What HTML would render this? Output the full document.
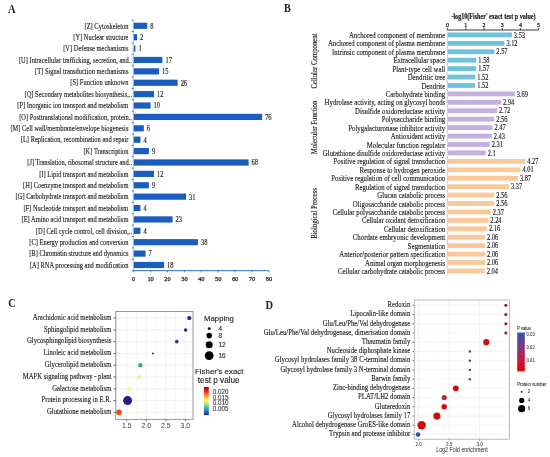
<!DOCTYPE html>
<html><head><meta charset="utf-8"><title>Figure</title>
<style>html,body{margin:0;padding:0;background:#fff;} body{width:550px;height:457px;overflow:hidden;} svg{display:block;filter:blur(0.3px);}</style>
</head><body>
<svg width="550" height="457" viewBox="0 0 550 457"><text transform="translate(8.00,12.60) scale(0.8898,1)" font-family="Liberation Serif" font-size="11.80" font-weight="bold" text-anchor="start" fill="#222222">A</text>
<rect x="133.70" y="22.70" width="13.52" height="6.20" fill="#1b5dbd" />
<text transform="translate(150.22,28.65) scale(0.8897,1)" font-family="Liberation Serif" font-size="7.25" font-weight="normal" text-anchor="start" fill="#222222" stroke="#222222" stroke-width="0.15">8</text>
<text transform="translate(128.40,28.50) scale(0.8897,1)" font-family="Liberation Serif" font-size="7.25" font-weight="normal" text-anchor="end" fill="#222222" stroke="#222222" stroke-width="0.13">[Z] Cytoskeleton</text>
<rect x="133.70" y="34.09" width="3.38" height="6.20" fill="#1b5dbd" />
<text transform="translate(140.08,40.04) scale(0.8897,1)" font-family="Liberation Serif" font-size="7.25" font-weight="normal" text-anchor="start" fill="#222222" stroke="#222222" stroke-width="0.15">2</text>
<text transform="translate(128.40,39.89) scale(0.8897,1)" font-family="Liberation Serif" font-size="7.25" font-weight="normal" text-anchor="end" fill="#222222" stroke="#222222" stroke-width="0.13">[Y] Nuclear structure</text>
<rect x="133.70" y="45.48" width="1.69" height="6.20" fill="#1b5dbd" />
<text transform="translate(138.39,51.43) scale(0.8897,1)" font-family="Liberation Serif" font-size="7.25" font-weight="normal" text-anchor="start" fill="#222222" stroke="#222222" stroke-width="0.15">1</text>
<text transform="translate(128.40,51.28) scale(0.8897,1)" font-family="Liberation Serif" font-size="7.25" font-weight="normal" text-anchor="end" fill="#222222" stroke="#222222" stroke-width="0.13">[V] Defense mechanisms</text>
<rect x="133.70" y="56.87" width="28.73" height="6.20" fill="#1b5dbd" />
<text transform="translate(165.43,62.82) scale(0.8897,1)" font-family="Liberation Serif" font-size="7.25" font-weight="normal" text-anchor="start" fill="#222222" stroke="#222222" stroke-width="0.15">17</text>
<text transform="translate(132.00,62.67) scale(0.8897,1)" font-family="Liberation Serif" font-size="7.25" font-weight="normal" text-anchor="end" fill="#222222" stroke="#222222" stroke-width="0.13">[U] Intracellular trafficking, secretion, and..</text>
<rect x="133.70" y="68.26" width="25.35" height="6.20" fill="#1b5dbd" />
<text transform="translate(162.05,74.20) scale(0.8897,1)" font-family="Liberation Serif" font-size="7.25" font-weight="normal" text-anchor="start" fill="#222222" stroke="#222222" stroke-width="0.15">15</text>
<text transform="translate(128.40,74.06) scale(0.8897,1)" font-family="Liberation Serif" font-size="7.25" font-weight="normal" text-anchor="end" fill="#222222" stroke="#222222" stroke-width="0.13">[T] Signal transduction mechanisms</text>
<rect x="133.70" y="79.65" width="43.94" height="6.20" fill="#1b5dbd" />
<text transform="translate(180.64,85.59) scale(0.8897,1)" font-family="Liberation Serif" font-size="7.25" font-weight="normal" text-anchor="start" fill="#222222" stroke="#222222" stroke-width="0.15">26</text>
<text transform="translate(128.40,85.45) scale(0.8897,1)" font-family="Liberation Serif" font-size="7.25" font-weight="normal" text-anchor="end" fill="#222222" stroke="#222222" stroke-width="0.13">[S] Function unknown</text>
<rect x="133.70" y="91.03" width="20.28" height="6.20" fill="#1b5dbd" />
<text transform="translate(156.98,96.98) scale(0.8897,1)" font-family="Liberation Serif" font-size="7.25" font-weight="normal" text-anchor="start" fill="#222222" stroke="#222222" stroke-width="0.15">12</text>
<text transform="translate(132.00,96.83) scale(0.8897,1)" font-family="Liberation Serif" font-size="7.25" font-weight="normal" text-anchor="end" fill="#222222" stroke="#222222" stroke-width="0.13">[Q] Secondary metabolites biosynthesis,..</text>
<rect x="133.70" y="102.43" width="16.90" height="6.20" fill="#1b5dbd" />
<text transform="translate(153.60,108.38) scale(0.8897,1)" font-family="Liberation Serif" font-size="7.25" font-weight="normal" text-anchor="start" fill="#222222" stroke="#222222" stroke-width="0.15">10</text>
<text transform="translate(128.40,108.23) scale(0.8897,1)" font-family="Liberation Serif" font-size="7.25" font-weight="normal" text-anchor="end" fill="#222222" stroke="#222222" stroke-width="0.13">[P] Inorganic ion transport and metabolism</text>
<rect x="133.70" y="113.81" width="128.44" height="6.20" fill="#1b5dbd" />
<text transform="translate(265.14,119.76) scale(0.8897,1)" font-family="Liberation Serif" font-size="7.25" font-weight="normal" text-anchor="start" fill="#222222" stroke="#222222" stroke-width="0.15">76</text>
<text transform="translate(132.00,119.61) scale(0.8897,1)" font-family="Liberation Serif" font-size="7.25" font-weight="normal" text-anchor="end" fill="#222222" stroke="#222222" stroke-width="0.13">[O] Posttranslational modification, protein..</text>
<rect x="133.70" y="125.21" width="10.14" height="6.20" fill="#1b5dbd" />
<text transform="translate(146.84,131.16) scale(0.8897,1)" font-family="Liberation Serif" font-size="7.25" font-weight="normal" text-anchor="start" fill="#222222" stroke="#222222" stroke-width="0.15">6</text>
<text transform="translate(128.40,131.00) scale(0.8897,1)" font-family="Liberation Serif" font-size="7.25" font-weight="normal" text-anchor="end" fill="#222222" stroke="#222222" stroke-width="0.13">[M] Cell wall/membrane/envelope biogenesis</text>
<rect x="133.70" y="136.59" width="6.76" height="6.20" fill="#1b5dbd" />
<text transform="translate(143.46,142.54) scale(0.8897,1)" font-family="Liberation Serif" font-size="7.25" font-weight="normal" text-anchor="start" fill="#222222" stroke="#222222" stroke-width="0.15">4</text>
<text transform="translate(128.40,142.39) scale(0.8897,1)" font-family="Liberation Serif" font-size="7.25" font-weight="normal" text-anchor="end" fill="#222222" stroke="#222222" stroke-width="0.13">[L] Replication, recombination and repair</text>
<rect x="133.70" y="147.99" width="15.21" height="6.20" fill="#1b5dbd" />
<text transform="translate(151.91,153.94) scale(0.8897,1)" font-family="Liberation Serif" font-size="7.25" font-weight="normal" text-anchor="start" fill="#222222" stroke="#222222" stroke-width="0.15">9</text>
<text transform="translate(128.40,153.78) scale(0.8897,1)" font-family="Liberation Serif" font-size="7.25" font-weight="normal" text-anchor="end" fill="#222222" stroke="#222222" stroke-width="0.13">[K] Transcription</text>
<rect x="133.70" y="159.38" width="114.92" height="6.20" fill="#1b5dbd" />
<text transform="translate(251.62,165.32) scale(0.8897,1)" font-family="Liberation Serif" font-size="7.25" font-weight="normal" text-anchor="start" fill="#222222" stroke="#222222" stroke-width="0.15">68</text>
<text transform="translate(132.00,165.17) scale(0.8897,1)" font-family="Liberation Serif" font-size="7.25" font-weight="normal" text-anchor="end" fill="#222222" stroke="#222222" stroke-width="0.13">[J] Translation, ribosomal structure and..</text>
<rect x="133.70" y="170.77" width="20.28" height="6.20" fill="#1b5dbd" />
<text transform="translate(156.98,176.72) scale(0.8897,1)" font-family="Liberation Serif" font-size="7.25" font-weight="normal" text-anchor="start" fill="#222222" stroke="#222222" stroke-width="0.15">12</text>
<text transform="translate(128.40,176.56) scale(0.8897,1)" font-family="Liberation Serif" font-size="7.25" font-weight="normal" text-anchor="end" fill="#222222" stroke="#222222" stroke-width="0.13">[I] Lipid transport and metabolism</text>
<rect x="133.70" y="182.16" width="15.21" height="6.20" fill="#1b5dbd" />
<text transform="translate(151.91,188.10) scale(0.8897,1)" font-family="Liberation Serif" font-size="7.25" font-weight="normal" text-anchor="start" fill="#222222" stroke="#222222" stroke-width="0.15">9</text>
<text transform="translate(128.40,187.95) scale(0.8897,1)" font-family="Liberation Serif" font-size="7.25" font-weight="normal" text-anchor="end" fill="#222222" stroke="#222222" stroke-width="0.13">[H] Coenzyme transport and metabolism</text>
<rect x="133.70" y="193.55" width="52.39" height="6.20" fill="#1b5dbd" />
<text transform="translate(189.09,199.50) scale(0.8897,1)" font-family="Liberation Serif" font-size="7.25" font-weight="normal" text-anchor="start" fill="#222222" stroke="#222222" stroke-width="0.15">31</text>
<text transform="translate(128.40,199.34) scale(0.8897,1)" font-family="Liberation Serif" font-size="7.25" font-weight="normal" text-anchor="end" fill="#222222" stroke="#222222" stroke-width="0.13">[G] Carbohydrate transport and metabolism</text>
<rect x="133.70" y="204.94" width="6.76" height="6.20" fill="#1b5dbd" />
<text transform="translate(143.46,210.88) scale(0.8897,1)" font-family="Liberation Serif" font-size="7.25" font-weight="normal" text-anchor="start" fill="#222222" stroke="#222222" stroke-width="0.15">4</text>
<text transform="translate(128.40,210.73) scale(0.8897,1)" font-family="Liberation Serif" font-size="7.25" font-weight="normal" text-anchor="end" fill="#222222" stroke="#222222" stroke-width="0.13">[F] Nucleotide transport and metabolism</text>
<rect x="133.70" y="216.33" width="38.87" height="6.20" fill="#1b5dbd" />
<text transform="translate(175.57,222.28) scale(0.8897,1)" font-family="Liberation Serif" font-size="7.25" font-weight="normal" text-anchor="start" fill="#222222" stroke="#222222" stroke-width="0.15">23</text>
<text transform="translate(128.40,222.12) scale(0.8897,1)" font-family="Liberation Serif" font-size="7.25" font-weight="normal" text-anchor="end" fill="#222222" stroke="#222222" stroke-width="0.13">[E] Amino acid transport and metabolism</text>
<rect x="133.70" y="227.72" width="6.76" height="6.20" fill="#1b5dbd" />
<text transform="translate(143.46,233.66) scale(0.8897,1)" font-family="Liberation Serif" font-size="7.25" font-weight="normal" text-anchor="start" fill="#222222" stroke="#222222" stroke-width="0.15">4</text>
<text transform="translate(132.00,233.51) scale(0.8897,1)" font-family="Liberation Serif" font-size="7.25" font-weight="normal" text-anchor="end" fill="#222222" stroke="#222222" stroke-width="0.13">[D] Cell cycle control, cell division,..</text>
<rect x="133.70" y="239.11" width="64.22" height="6.20" fill="#1b5dbd" />
<text transform="translate(200.92,245.06) scale(0.8897,1)" font-family="Liberation Serif" font-size="7.25" font-weight="normal" text-anchor="start" fill="#222222" stroke="#222222" stroke-width="0.15">38</text>
<text transform="translate(128.40,244.91) scale(0.8897,1)" font-family="Liberation Serif" font-size="7.25" font-weight="normal" text-anchor="end" fill="#222222" stroke="#222222" stroke-width="0.13">[C] Energy production and conversion</text>
<rect x="133.70" y="250.50" width="11.83" height="6.20" fill="#1b5dbd" />
<text transform="translate(148.53,256.44) scale(0.8897,1)" font-family="Liberation Serif" font-size="7.25" font-weight="normal" text-anchor="start" fill="#222222" stroke="#222222" stroke-width="0.15">7</text>
<text transform="translate(128.40,256.30) scale(0.8897,1)" font-family="Liberation Serif" font-size="7.25" font-weight="normal" text-anchor="end" fill="#222222" stroke="#222222" stroke-width="0.13">[B] Chromatin structure and dynamics</text>
<rect x="133.70" y="261.88" width="30.42" height="6.20" fill="#1b5dbd" />
<text transform="translate(167.12,267.84) scale(0.8897,1)" font-family="Liberation Serif" font-size="7.25" font-weight="normal" text-anchor="start" fill="#222222" stroke="#222222" stroke-width="0.15">18</text>
<text transform="translate(128.40,267.69) scale(0.8897,1)" font-family="Liberation Serif" font-size="7.25" font-weight="normal" text-anchor="end" fill="#222222" stroke="#222222" stroke-width="0.13">[A] RNA processing and modification</text>
<line x1="133.30" y1="20.10" x2="133.30" y2="270.68" stroke="#6f9bd6" stroke-width="0.6" />
<line x1="131.70" y1="20.10" x2="133.70" y2="20.10" stroke="#1b5dbd" stroke-width="0.8" />
<line x1="131.70" y1="31.49" x2="133.70" y2="31.49" stroke="#1b5dbd" stroke-width="0.8" />
<line x1="131.70" y1="42.88" x2="133.70" y2="42.88" stroke="#1b5dbd" stroke-width="0.8" />
<line x1="131.70" y1="54.27" x2="133.70" y2="54.27" stroke="#1b5dbd" stroke-width="0.8" />
<line x1="131.70" y1="65.66" x2="133.70" y2="65.66" stroke="#1b5dbd" stroke-width="0.8" />
<line x1="131.70" y1="77.05" x2="133.70" y2="77.05" stroke="#1b5dbd" stroke-width="0.8" />
<line x1="131.70" y1="88.44" x2="133.70" y2="88.44" stroke="#1b5dbd" stroke-width="0.8" />
<line x1="131.70" y1="99.83" x2="133.70" y2="99.83" stroke="#1b5dbd" stroke-width="0.8" />
<line x1="131.70" y1="111.22" x2="133.70" y2="111.22" stroke="#1b5dbd" stroke-width="0.8" />
<line x1="131.70" y1="122.61" x2="133.70" y2="122.61" stroke="#1b5dbd" stroke-width="0.8" />
<line x1="131.70" y1="134.00" x2="133.70" y2="134.00" stroke="#1b5dbd" stroke-width="0.8" />
<line x1="131.70" y1="145.39" x2="133.70" y2="145.39" stroke="#1b5dbd" stroke-width="0.8" />
<line x1="131.70" y1="156.78" x2="133.70" y2="156.78" stroke="#1b5dbd" stroke-width="0.8" />
<line x1="131.70" y1="168.17" x2="133.70" y2="168.17" stroke="#1b5dbd" stroke-width="0.8" />
<line x1="131.70" y1="179.56" x2="133.70" y2="179.56" stroke="#1b5dbd" stroke-width="0.8" />
<line x1="131.70" y1="190.95" x2="133.70" y2="190.95" stroke="#1b5dbd" stroke-width="0.8" />
<line x1="131.70" y1="202.34" x2="133.70" y2="202.34" stroke="#1b5dbd" stroke-width="0.8" />
<line x1="131.70" y1="213.73" x2="133.70" y2="213.73" stroke="#1b5dbd" stroke-width="0.8" />
<line x1="131.70" y1="225.12" x2="133.70" y2="225.12" stroke="#1b5dbd" stroke-width="0.8" />
<line x1="131.70" y1="236.51" x2="133.70" y2="236.51" stroke="#1b5dbd" stroke-width="0.8" />
<line x1="131.70" y1="247.90" x2="133.70" y2="247.90" stroke="#1b5dbd" stroke-width="0.8" />
<line x1="131.70" y1="259.29" x2="133.70" y2="259.29" stroke="#1b5dbd" stroke-width="0.8" />
<line x1="131.70" y1="270.68" x2="133.70" y2="270.68" stroke="#1b5dbd" stroke-width="0.8" />
<line x1="133.70" y1="270.68" x2="268.90" y2="270.68" stroke="#1b5dbd" stroke-width="0.9" />
<line x1="133.70" y1="270.68" x2="133.70" y2="272.28" stroke="#1b5dbd" stroke-width="0.8" />
<text transform="translate(133.70,281.40)" font-family="Liberation Serif" font-size="6.45" font-weight="normal" text-anchor="middle" fill="#222222" stroke="#222222" stroke-width="0.25">0</text>
<line x1="150.60" y1="270.68" x2="150.60" y2="272.28" stroke="#1b5dbd" stroke-width="0.8" />
<text transform="translate(150.60,281.40)" font-family="Liberation Serif" font-size="6.45" font-weight="normal" text-anchor="middle" fill="#222222" stroke="#222222" stroke-width="0.25">10</text>
<line x1="167.50" y1="270.68" x2="167.50" y2="272.28" stroke="#1b5dbd" stroke-width="0.8" />
<text transform="translate(167.50,281.40)" font-family="Liberation Serif" font-size="6.45" font-weight="normal" text-anchor="middle" fill="#222222" stroke="#222222" stroke-width="0.25">20</text>
<line x1="184.40" y1="270.68" x2="184.40" y2="272.28" stroke="#1b5dbd" stroke-width="0.8" />
<text transform="translate(184.40,281.40)" font-family="Liberation Serif" font-size="6.45" font-weight="normal" text-anchor="middle" fill="#222222" stroke="#222222" stroke-width="0.25">30</text>
<line x1="201.30" y1="270.68" x2="201.30" y2="272.28" stroke="#1b5dbd" stroke-width="0.8" />
<text transform="translate(201.30,281.40)" font-family="Liberation Serif" font-size="6.45" font-weight="normal" text-anchor="middle" fill="#222222" stroke="#222222" stroke-width="0.25">40</text>
<line x1="218.20" y1="270.68" x2="218.20" y2="272.28" stroke="#1b5dbd" stroke-width="0.8" />
<text transform="translate(218.20,281.40)" font-family="Liberation Serif" font-size="6.45" font-weight="normal" text-anchor="middle" fill="#222222" stroke="#222222" stroke-width="0.25">50</text>
<line x1="235.10" y1="270.68" x2="235.10" y2="272.28" stroke="#1b5dbd" stroke-width="0.8" />
<text transform="translate(235.10,281.40)" font-family="Liberation Serif" font-size="6.45" font-weight="normal" text-anchor="middle" fill="#222222" stroke="#222222" stroke-width="0.25">60</text>
<line x1="252.00" y1="270.68" x2="252.00" y2="272.28" stroke="#1b5dbd" stroke-width="0.8" />
<text transform="translate(252.00,281.40)" font-family="Liberation Serif" font-size="6.45" font-weight="normal" text-anchor="middle" fill="#222222" stroke="#222222" stroke-width="0.25">70</text>
<line x1="268.90" y1="270.68" x2="268.90" y2="272.28" stroke="#1b5dbd" stroke-width="0.8" />
<text transform="translate(268.90,281.40)" font-family="Liberation Serif" font-size="6.45" font-weight="normal" text-anchor="middle" fill="#222222" stroke="#222222" stroke-width="0.25">80</text>
<text transform="translate(284.00,12.30) scale(0.8793,1)" font-family="Liberation Serif" font-size="11.60" font-weight="bold" text-anchor="start" fill="#222222">B</text>
<rect x="447.60" y="32.50" width="64.25" height="4.80" fill="#70c2dd" />
<text transform="translate(513.85,37.60) scale(0.8828,1)" font-family="Liberation Serif" font-size="7.25" font-weight="normal" text-anchor="start" fill="#222222" stroke="#222222" stroke-width="0.15">3.53</text>
<text transform="translate(445.20,38.00) scale(0.9379,1)" font-family="Liberation Serif" font-size="7.25" font-weight="normal" text-anchor="end" fill="#222222" stroke="#222222" stroke-width="0.13">Anchored component of membrane</text>
<rect x="447.60" y="40.93" width="56.78" height="4.80" fill="#70c2dd" />
<text transform="translate(506.38,46.03) scale(0.8828,1)" font-family="Liberation Serif" font-size="7.25" font-weight="normal" text-anchor="start" fill="#222222" stroke="#222222" stroke-width="0.15">3.12</text>
<text transform="translate(445.20,46.43) scale(0.9379,1)" font-family="Liberation Serif" font-size="7.25" font-weight="normal" text-anchor="end" fill="#222222" stroke="#222222" stroke-width="0.13">Anchored component of plasma membrane</text>
<rect x="447.60" y="49.36" width="46.77" height="4.80" fill="#70c2dd" />
<text transform="translate(496.37,54.46) scale(0.8828,1)" font-family="Liberation Serif" font-size="7.25" font-weight="normal" text-anchor="start" fill="#222222" stroke="#222222" stroke-width="0.15">2.57</text>
<text transform="translate(445.20,54.86) scale(0.9379,1)" font-family="Liberation Serif" font-size="7.25" font-weight="normal" text-anchor="end" fill="#222222" stroke="#222222" stroke-width="0.13">Intrinsic component of plasma membrane</text>
<rect x="447.60" y="57.79" width="28.76" height="4.80" fill="#70c2dd" />
<text transform="translate(478.36,62.89) scale(0.8828,1)" font-family="Liberation Serif" font-size="7.25" font-weight="normal" text-anchor="start" fill="#222222" stroke="#222222" stroke-width="0.15">1.58</text>
<text transform="translate(445.20,63.29) scale(0.9379,1)" font-family="Liberation Serif" font-size="7.25" font-weight="normal" text-anchor="end" fill="#222222" stroke="#222222" stroke-width="0.13">Extracellular space</text>
<rect x="447.60" y="66.22" width="28.57" height="4.80" fill="#70c2dd" />
<text transform="translate(478.17,71.32) scale(0.8828,1)" font-family="Liberation Serif" font-size="7.25" font-weight="normal" text-anchor="start" fill="#222222" stroke="#222222" stroke-width="0.15">1.57</text>
<text transform="translate(445.20,71.72) scale(0.9379,1)" font-family="Liberation Serif" font-size="7.25" font-weight="normal" text-anchor="end" fill="#222222" stroke="#222222" stroke-width="0.13">Plant-type cell wall</text>
<rect x="447.60" y="74.65" width="27.66" height="4.80" fill="#70c2dd" />
<text transform="translate(477.26,79.75) scale(0.8828,1)" font-family="Liberation Serif" font-size="7.25" font-weight="normal" text-anchor="start" fill="#222222" stroke="#222222" stroke-width="0.15">1.52</text>
<text transform="translate(445.20,80.15) scale(0.9379,1)" font-family="Liberation Serif" font-size="7.25" font-weight="normal" text-anchor="end" fill="#222222" stroke="#222222" stroke-width="0.13">Dendritic tree</text>
<rect x="447.60" y="83.08" width="27.66" height="4.80" fill="#70c2dd" />
<text transform="translate(477.26,88.18) scale(0.8828,1)" font-family="Liberation Serif" font-size="7.25" font-weight="normal" text-anchor="start" fill="#222222" stroke="#222222" stroke-width="0.15">1.52</text>
<text transform="translate(445.20,88.58) scale(0.9379,1)" font-family="Liberation Serif" font-size="7.25" font-weight="normal" text-anchor="end" fill="#222222" stroke="#222222" stroke-width="0.13">Dendrite</text>
<rect x="447.60" y="91.51" width="67.16" height="4.80" fill="#c4b0dc" />
<text transform="translate(516.76,96.61) scale(0.8828,1)" font-family="Liberation Serif" font-size="7.25" font-weight="normal" text-anchor="start" fill="#222222" stroke="#222222" stroke-width="0.15">3.69</text>
<text transform="translate(445.20,97.01) scale(0.9379,1)" font-family="Liberation Serif" font-size="7.25" font-weight="normal" text-anchor="end" fill="#222222" stroke="#222222" stroke-width="0.13">Carbohydrate binding</text>
<rect x="447.60" y="99.94" width="53.51" height="4.80" fill="#c4b0dc" />
<text transform="translate(503.11,105.04) scale(0.8828,1)" font-family="Liberation Serif" font-size="7.25" font-weight="normal" text-anchor="start" fill="#222222" stroke="#222222" stroke-width="0.15">2.94</text>
<text transform="translate(445.20,105.44) scale(0.9379,1)" font-family="Liberation Serif" font-size="7.25" font-weight="normal" text-anchor="end" fill="#222222" stroke="#222222" stroke-width="0.13">Hydrolase activity, acting on glycosyl bonds</text>
<rect x="447.60" y="108.37" width="49.50" height="4.80" fill="#c4b0dc" />
<text transform="translate(499.10,113.47) scale(0.8828,1)" font-family="Liberation Serif" font-size="7.25" font-weight="normal" text-anchor="start" fill="#222222" stroke="#222222" stroke-width="0.15">2.72</text>
<text transform="translate(445.20,113.87) scale(0.9379,1)" font-family="Liberation Serif" font-size="7.25" font-weight="normal" text-anchor="end" fill="#222222" stroke="#222222" stroke-width="0.13">Disulfide oxidoreductase activity</text>
<rect x="447.60" y="116.80" width="46.59" height="4.80" fill="#c4b0dc" />
<text transform="translate(496.19,121.90) scale(0.8828,1)" font-family="Liberation Serif" font-size="7.25" font-weight="normal" text-anchor="start" fill="#222222" stroke="#222222" stroke-width="0.15">2.56</text>
<text transform="translate(445.20,122.30) scale(0.9379,1)" font-family="Liberation Serif" font-size="7.25" font-weight="normal" text-anchor="end" fill="#222222" stroke="#222222" stroke-width="0.13">Polysaccharide binding</text>
<rect x="447.60" y="125.23" width="44.95" height="4.80" fill="#c4b0dc" />
<text transform="translate(494.55,130.33) scale(0.8828,1)" font-family="Liberation Serif" font-size="7.25" font-weight="normal" text-anchor="start" fill="#222222" stroke="#222222" stroke-width="0.15">2.47</text>
<text transform="translate(445.20,130.73) scale(0.9379,1)" font-family="Liberation Serif" font-size="7.25" font-weight="normal" text-anchor="end" fill="#222222" stroke="#222222" stroke-width="0.13">Polygalacturonase inhibitor activity</text>
<rect x="447.60" y="133.66" width="44.23" height="4.80" fill="#c4b0dc" />
<text transform="translate(493.83,138.76) scale(0.8828,1)" font-family="Liberation Serif" font-size="7.25" font-weight="normal" text-anchor="start" fill="#222222" stroke="#222222" stroke-width="0.15">2.43</text>
<text transform="translate(445.20,139.16) scale(0.9379,1)" font-family="Liberation Serif" font-size="7.25" font-weight="normal" text-anchor="end" fill="#222222" stroke="#222222" stroke-width="0.13">Antioxidant activity</text>
<rect x="447.60" y="142.09" width="42.04" height="4.80" fill="#c4b0dc" />
<text transform="translate(491.64,147.19) scale(0.8828,1)" font-family="Liberation Serif" font-size="7.25" font-weight="normal" text-anchor="start" fill="#222222" stroke="#222222" stroke-width="0.15">2.31</text>
<text transform="translate(445.20,147.59) scale(0.9379,1)" font-family="Liberation Serif" font-size="7.25" font-weight="normal" text-anchor="end" fill="#222222" stroke="#222222" stroke-width="0.13">Molecular function regulator</text>
<rect x="447.60" y="150.52" width="38.22" height="4.80" fill="#c4b0dc" />
<text transform="translate(487.82,155.62) scale(0.8828,1)" font-family="Liberation Serif" font-size="7.25" font-weight="normal" text-anchor="start" fill="#222222" stroke="#222222" stroke-width="0.15">2.1</text>
<text transform="translate(445.20,156.02) scale(0.9379,1)" font-family="Liberation Serif" font-size="7.25" font-weight="normal" text-anchor="end" fill="#222222" stroke="#222222" stroke-width="0.13">Glutathione disulfide oxidoreductase activity</text>
<rect x="447.60" y="158.95" width="77.71" height="4.80" fill="#fac99b" />
<text transform="translate(527.31,164.05) scale(0.8828,1)" font-family="Liberation Serif" font-size="7.25" font-weight="normal" text-anchor="start" fill="#222222" stroke="#222222" stroke-width="0.15">4.27</text>
<text transform="translate(445.20,164.45) scale(0.9379,1)" font-family="Liberation Serif" font-size="7.25" font-weight="normal" text-anchor="end" fill="#222222" stroke="#222222" stroke-width="0.13">Positive regulation of signal transduction</text>
<rect x="447.60" y="167.38" width="72.98" height="4.80" fill="#fac99b" />
<text transform="translate(522.58,172.48) scale(0.8828,1)" font-family="Liberation Serif" font-size="7.25" font-weight="normal" text-anchor="start" fill="#222222" stroke="#222222" stroke-width="0.15">4.01</text>
<text transform="translate(445.20,172.88) scale(0.9379,1)" font-family="Liberation Serif" font-size="7.25" font-weight="normal" text-anchor="end" fill="#222222" stroke="#222222" stroke-width="0.13">Response to hydrogen peroxide</text>
<rect x="447.60" y="175.81" width="70.43" height="4.80" fill="#fac99b" />
<text transform="translate(520.03,180.91) scale(0.8828,1)" font-family="Liberation Serif" font-size="7.25" font-weight="normal" text-anchor="start" fill="#222222" stroke="#222222" stroke-width="0.15">3.87</text>
<text transform="translate(445.20,181.31) scale(0.9379,1)" font-family="Liberation Serif" font-size="7.25" font-weight="normal" text-anchor="end" fill="#222222" stroke="#222222" stroke-width="0.13">Positive regulation of cell communication</text>
<rect x="447.60" y="184.24" width="61.33" height="4.80" fill="#fac99b" />
<text transform="translate(510.93,189.34) scale(0.8828,1)" font-family="Liberation Serif" font-size="7.25" font-weight="normal" text-anchor="start" fill="#222222" stroke="#222222" stroke-width="0.15">3.37</text>
<text transform="translate(445.20,189.74) scale(0.9379,1)" font-family="Liberation Serif" font-size="7.25" font-weight="normal" text-anchor="end" fill="#222222" stroke="#222222" stroke-width="0.13">Regulation of signal transduction</text>
<rect x="447.60" y="192.67" width="46.59" height="4.80" fill="#fac99b" />
<text transform="translate(496.19,197.77) scale(0.8828,1)" font-family="Liberation Serif" font-size="7.25" font-weight="normal" text-anchor="start" fill="#222222" stroke="#222222" stroke-width="0.15">2.56</text>
<text transform="translate(445.20,198.17) scale(0.9379,1)" font-family="Liberation Serif" font-size="7.25" font-weight="normal" text-anchor="end" fill="#222222" stroke="#222222" stroke-width="0.13">Glucan catabolic process</text>
<rect x="447.60" y="201.10" width="46.59" height="4.80" fill="#fac99b" />
<text transform="translate(496.19,206.20) scale(0.8828,1)" font-family="Liberation Serif" font-size="7.25" font-weight="normal" text-anchor="start" fill="#222222" stroke="#222222" stroke-width="0.15">2.56</text>
<text transform="translate(445.20,206.60) scale(0.9379,1)" font-family="Liberation Serif" font-size="7.25" font-weight="normal" text-anchor="end" fill="#222222" stroke="#222222" stroke-width="0.13">Oligosaccharide catabolic process</text>
<rect x="447.60" y="209.53" width="43.13" height="4.80" fill="#fac99b" />
<text transform="translate(492.73,214.63) scale(0.8828,1)" font-family="Liberation Serif" font-size="7.25" font-weight="normal" text-anchor="start" fill="#222222" stroke="#222222" stroke-width="0.15">2.37</text>
<text transform="translate(445.20,215.03) scale(0.9379,1)" font-family="Liberation Serif" font-size="7.25" font-weight="normal" text-anchor="end" fill="#222222" stroke="#222222" stroke-width="0.13">Cellular polysaccharide catabolic process</text>
<rect x="447.60" y="217.96" width="40.77" height="4.80" fill="#fac99b" />
<text transform="translate(490.37,223.06) scale(0.8828,1)" font-family="Liberation Serif" font-size="7.25" font-weight="normal" text-anchor="start" fill="#222222" stroke="#222222" stroke-width="0.15">2.24</text>
<text transform="translate(445.20,223.46) scale(0.9379,1)" font-family="Liberation Serif" font-size="7.25" font-weight="normal" text-anchor="end" fill="#222222" stroke="#222222" stroke-width="0.13">Cellular oxidant detoxification</text>
<rect x="447.60" y="226.39" width="39.31" height="4.80" fill="#fac99b" />
<text transform="translate(488.91,231.49) scale(0.8828,1)" font-family="Liberation Serif" font-size="7.25" font-weight="normal" text-anchor="start" fill="#222222" stroke="#222222" stroke-width="0.15">2.16</text>
<text transform="translate(445.20,231.89) scale(0.9379,1)" font-family="Liberation Serif" font-size="7.25" font-weight="normal" text-anchor="end" fill="#222222" stroke="#222222" stroke-width="0.13">Cellular detoxification</text>
<rect x="447.60" y="234.82" width="37.49" height="4.80" fill="#fac99b" />
<text transform="translate(487.09,239.92) scale(0.8828,1)" font-family="Liberation Serif" font-size="7.25" font-weight="normal" text-anchor="start" fill="#222222" stroke="#222222" stroke-width="0.15">2.06</text>
<text transform="translate(445.20,240.32) scale(0.9379,1)" font-family="Liberation Serif" font-size="7.25" font-weight="normal" text-anchor="end" fill="#222222" stroke="#222222" stroke-width="0.13">Chordate embryonic development</text>
<rect x="447.60" y="243.25" width="37.49" height="4.80" fill="#fac99b" />
<text transform="translate(487.09,248.35) scale(0.8828,1)" font-family="Liberation Serif" font-size="7.25" font-weight="normal" text-anchor="start" fill="#222222" stroke="#222222" stroke-width="0.15">2.06</text>
<text transform="translate(445.20,248.75) scale(0.9379,1)" font-family="Liberation Serif" font-size="7.25" font-weight="normal" text-anchor="end" fill="#222222" stroke="#222222" stroke-width="0.13">Segmentation</text>
<rect x="447.60" y="251.68" width="37.49" height="4.80" fill="#fac99b" />
<text transform="translate(487.09,256.78) scale(0.8828,1)" font-family="Liberation Serif" font-size="7.25" font-weight="normal" text-anchor="start" fill="#222222" stroke="#222222" stroke-width="0.15">2.06</text>
<text transform="translate(445.20,257.18) scale(0.9379,1)" font-family="Liberation Serif" font-size="7.25" font-weight="normal" text-anchor="end" fill="#222222" stroke="#222222" stroke-width="0.13">Anterior/posterior pattern specification</text>
<rect x="447.60" y="260.11" width="37.49" height="4.80" fill="#fac99b" />
<text transform="translate(487.09,265.21) scale(0.8828,1)" font-family="Liberation Serif" font-size="7.25" font-weight="normal" text-anchor="start" fill="#222222" stroke="#222222" stroke-width="0.15">2.06</text>
<text transform="translate(445.20,265.61) scale(0.9379,1)" font-family="Liberation Serif" font-size="7.25" font-weight="normal" text-anchor="end" fill="#222222" stroke="#222222" stroke-width="0.13">Animal organ morphogenesis</text>
<rect x="447.60" y="268.54" width="37.13" height="4.80" fill="#fac99b" />
<text transform="translate(486.73,273.64) scale(0.8828,1)" font-family="Liberation Serif" font-size="7.25" font-weight="normal" text-anchor="start" fill="#222222" stroke="#222222" stroke-width="0.15">2.04</text>
<text transform="translate(445.20,274.04) scale(0.9379,1)" font-family="Liberation Serif" font-size="7.25" font-weight="normal" text-anchor="end" fill="#222222" stroke="#222222" stroke-width="0.13">Cellular carbohydrate catabolic process</text>
<line x1="447.60" y1="30.00" x2="538.60" y2="30.00" stroke="#222" stroke-width="0.9" />
<line x1="447.60" y1="28.00" x2="447.60" y2="30.00" stroke="#222" stroke-width="0.8" />
<text transform="translate(447.60,27.30)" font-family="Liberation Serif" font-size="6.00" font-weight="normal" text-anchor="middle" fill="#222222" stroke="#222222" stroke-width="0.25">0</text>
<line x1="465.80" y1="28.00" x2="465.80" y2="30.00" stroke="#222" stroke-width="0.8" />
<text transform="translate(465.80,27.30)" font-family="Liberation Serif" font-size="6.00" font-weight="normal" text-anchor="middle" fill="#222222" stroke="#222222" stroke-width="0.25">1</text>
<line x1="484.00" y1="28.00" x2="484.00" y2="30.00" stroke="#222" stroke-width="0.8" />
<text transform="translate(484.00,27.30)" font-family="Liberation Serif" font-size="6.00" font-weight="normal" text-anchor="middle" fill="#222222" stroke="#222222" stroke-width="0.25">2</text>
<line x1="502.20" y1="28.00" x2="502.20" y2="30.00" stroke="#222" stroke-width="0.8" />
<text transform="translate(502.20,27.30)" font-family="Liberation Serif" font-size="6.00" font-weight="normal" text-anchor="middle" fill="#222222" stroke="#222222" stroke-width="0.25">3</text>
<line x1="520.40" y1="28.00" x2="520.40" y2="30.00" stroke="#222" stroke-width="0.8" />
<text transform="translate(520.40,27.30)" font-family="Liberation Serif" font-size="6.00" font-weight="normal" text-anchor="middle" fill="#222222" stroke="#222222" stroke-width="0.25">4</text>
<line x1="538.60" y1="28.00" x2="538.60" y2="30.00" stroke="#222" stroke-width="0.8" />
<text transform="translate(538.60,27.30)" font-family="Liberation Serif" font-size="6.00" font-weight="normal" text-anchor="middle" fill="#222222" stroke="#222222" stroke-width="0.25">5</text>
<line x1="447.60" y1="30.00" x2="447.60" y2="274.80" stroke="#bbb" stroke-width="0.6" />
<line x1="446.20" y1="30.68" x2="447.60" y2="30.68" stroke="#bbb" stroke-width="0.5" />
<line x1="446.20" y1="39.11" x2="447.60" y2="39.11" stroke="#bbb" stroke-width="0.5" />
<line x1="446.20" y1="47.55" x2="447.60" y2="47.55" stroke="#bbb" stroke-width="0.5" />
<line x1="446.20" y1="55.97" x2="447.60" y2="55.97" stroke="#bbb" stroke-width="0.5" />
<line x1="446.20" y1="64.41" x2="447.60" y2="64.41" stroke="#bbb" stroke-width="0.5" />
<line x1="446.20" y1="72.83" x2="447.60" y2="72.83" stroke="#bbb" stroke-width="0.5" />
<line x1="446.20" y1="81.27" x2="447.60" y2="81.27" stroke="#bbb" stroke-width="0.5" />
<line x1="446.20" y1="89.69" x2="447.60" y2="89.69" stroke="#bbb" stroke-width="0.5" />
<line x1="446.20" y1="98.12" x2="447.60" y2="98.12" stroke="#bbb" stroke-width="0.5" />
<line x1="446.20" y1="106.56" x2="447.60" y2="106.56" stroke="#bbb" stroke-width="0.5" />
<line x1="446.20" y1="114.98" x2="447.60" y2="114.98" stroke="#bbb" stroke-width="0.5" />
<line x1="446.20" y1="123.41" x2="447.60" y2="123.41" stroke="#bbb" stroke-width="0.5" />
<line x1="446.20" y1="131.84" x2="447.60" y2="131.84" stroke="#bbb" stroke-width="0.5" />
<line x1="446.20" y1="140.28" x2="447.60" y2="140.28" stroke="#bbb" stroke-width="0.5" />
<line x1="446.20" y1="148.70" x2="447.60" y2="148.70" stroke="#bbb" stroke-width="0.5" />
<line x1="446.20" y1="157.13" x2="447.60" y2="157.13" stroke="#bbb" stroke-width="0.5" />
<line x1="446.20" y1="165.56" x2="447.60" y2="165.56" stroke="#bbb" stroke-width="0.5" />
<line x1="446.20" y1="174.00" x2="447.60" y2="174.00" stroke="#bbb" stroke-width="0.5" />
<line x1="446.20" y1="182.43" x2="447.60" y2="182.43" stroke="#bbb" stroke-width="0.5" />
<line x1="446.20" y1="190.85" x2="447.60" y2="190.85" stroke="#bbb" stroke-width="0.5" />
<line x1="446.20" y1="199.28" x2="447.60" y2="199.28" stroke="#bbb" stroke-width="0.5" />
<line x1="446.20" y1="207.72" x2="447.60" y2="207.72" stroke="#bbb" stroke-width="0.5" />
<line x1="446.20" y1="216.14" x2="447.60" y2="216.14" stroke="#bbb" stroke-width="0.5" />
<line x1="446.20" y1="224.57" x2="447.60" y2="224.57" stroke="#bbb" stroke-width="0.5" />
<line x1="446.20" y1="233.00" x2="447.60" y2="233.00" stroke="#bbb" stroke-width="0.5" />
<line x1="446.20" y1="241.44" x2="447.60" y2="241.44" stroke="#bbb" stroke-width="0.5" />
<line x1="446.20" y1="249.87" x2="447.60" y2="249.87" stroke="#bbb" stroke-width="0.5" />
<line x1="446.20" y1="258.29" x2="447.60" y2="258.29" stroke="#bbb" stroke-width="0.5" />
<line x1="446.20" y1="266.72" x2="447.60" y2="266.72" stroke="#bbb" stroke-width="0.5" />
<line x1="446.20" y1="275.15" x2="447.60" y2="275.15" stroke="#bbb" stroke-width="0.5" />
<text transform="translate(493.50,18.70) scale(0.8414,1)" font-family="Liberation Serif" font-size="7.25" font-weight="bold" text-anchor="middle" fill="#222222" stroke="#222222" stroke-width="0.20">-log10(Fisher&#x27; exact test p value)</text>
<text transform="translate(317.1,61.0) rotate(-90) scale(0.9379,1)" font-family="Liberation Serif" font-size="7.25" text-anchor="middle" fill="#222222" stroke="#222222" stroke-width="0.13">Cellular Component</text>
<text transform="translate(317.1,127.5) rotate(-90) scale(0.9379,1)" font-family="Liberation Serif" font-size="7.25" text-anchor="middle" fill="#222222" stroke="#222222" stroke-width="0.13">Molecular Function</text>
<text transform="translate(317.1,213.5) rotate(-90) scale(0.9379,1)" font-family="Liberation Serif" font-size="7.25" text-anchor="middle" fill="#222222" stroke="#222222" stroke-width="0.13">Biological Process</text>
<text transform="translate(8.30,306.80) scale(0.8644,1)" font-family="Liberation Serif" font-size="11.80" font-weight="bold" text-anchor="start" fill="#222222">C</text>
<rect x="115.80" y="311.50" width="77.20" height="107.80" fill="#ffffff" />
<line x1="116.92" y1="311.50" x2="116.92" y2="419.30" stroke="#ebebeb" stroke-width="0.5" />
<line x1="126.70" y1="311.50" x2="126.70" y2="419.30" stroke="#ebebeb" stroke-width="0.7" />
<line x1="136.48" y1="311.50" x2="136.48" y2="419.30" stroke="#ebebeb" stroke-width="0.5" />
<line x1="146.27" y1="311.50" x2="146.27" y2="419.30" stroke="#ebebeb" stroke-width="0.7" />
<line x1="156.05" y1="311.50" x2="156.05" y2="419.30" stroke="#ebebeb" stroke-width="0.5" />
<line x1="165.83" y1="311.50" x2="165.83" y2="419.30" stroke="#ebebeb" stroke-width="0.7" />
<line x1="175.61" y1="311.50" x2="175.61" y2="419.30" stroke="#ebebeb" stroke-width="0.5" />
<line x1="185.40" y1="311.50" x2="185.40" y2="419.30" stroke="#ebebeb" stroke-width="0.7" />
<line x1="115.80" y1="318.10" x2="193.00" y2="318.10" stroke="#ebebeb" stroke-width="0.7" />
<line x1="115.80" y1="329.88" x2="193.00" y2="329.88" stroke="#ebebeb" stroke-width="0.7" />
<line x1="115.80" y1="341.66" x2="193.00" y2="341.66" stroke="#ebebeb" stroke-width="0.7" />
<line x1="115.80" y1="353.44" x2="193.00" y2="353.44" stroke="#ebebeb" stroke-width="0.7" />
<line x1="115.80" y1="365.23" x2="193.00" y2="365.23" stroke="#ebebeb" stroke-width="0.7" />
<line x1="115.80" y1="377.01" x2="193.00" y2="377.01" stroke="#ebebeb" stroke-width="0.7" />
<line x1="115.80" y1="388.79" x2="193.00" y2="388.79" stroke="#ebebeb" stroke-width="0.7" />
<line x1="115.80" y1="400.57" x2="193.00" y2="400.57" stroke="#ebebeb" stroke-width="0.7" />
<line x1="115.80" y1="412.35" x2="193.00" y2="412.35" stroke="#ebebeb" stroke-width="0.7" />
<circle cx="189.31" cy="318.10" r="2.10" fill="#2a1f8a" />
<line x1="113.60" y1="318.10" x2="115.80" y2="318.10" stroke="#333" stroke-width="0.8" />
<text transform="translate(111.40,319.90) scale(0.9214,1)" font-family="Liberation Serif" font-size="7.25" font-weight="normal" text-anchor="end" fill="#222222" stroke="#222222" stroke-width="0.13">Arachidonic acid metabolism</text>
<circle cx="185.59" cy="329.88" r="1.75" fill="#1f2a90" />
<line x1="113.60" y1="329.88" x2="115.80" y2="329.88" stroke="#333" stroke-width="0.8" />
<text transform="translate(111.40,331.68) scale(0.9214,1)" font-family="Liberation Serif" font-size="7.25" font-weight="normal" text-anchor="end" fill="#222222" stroke="#222222" stroke-width="0.13">Sphingolipid metabolism</text>
<circle cx="176.79" cy="341.66" r="1.80" fill="#1e3a9a" />
<line x1="113.60" y1="341.66" x2="115.80" y2="341.66" stroke="#333" stroke-width="0.8" />
<text transform="translate(111.40,343.46) scale(0.9214,1)" font-family="Liberation Serif" font-size="7.25" font-weight="normal" text-anchor="end" fill="#222222" stroke="#222222" stroke-width="0.13">Glycosphingolipid biosynthesis</text>
<circle cx="152.92" cy="353.44" r="1.00" fill="#8b1a1a" />
<line x1="113.60" y1="353.44" x2="115.80" y2="353.44" stroke="#333" stroke-width="0.8" />
<text transform="translate(111.40,355.24) scale(0.9214,1)" font-family="Liberation Serif" font-size="7.25" font-weight="normal" text-anchor="end" fill="#222222" stroke="#222222" stroke-width="0.13">Linoleic acid metabolism</text>
<circle cx="140.32" cy="365.23" r="2.30" fill="#3aa79a" />
<line x1="113.60" y1="365.23" x2="115.80" y2="365.23" stroke="#333" stroke-width="0.8" />
<text transform="translate(111.40,367.03) scale(0.9214,1)" font-family="Liberation Serif" font-size="7.25" font-weight="normal" text-anchor="end" fill="#222222" stroke="#222222" stroke-width="0.13">Glycerolipid metabolism</text>
<circle cx="139.10" cy="377.01" r="2.10" fill="#f6f08a" />
<line x1="113.60" y1="377.01" x2="115.80" y2="377.01" stroke="#333" stroke-width="0.8" />
<text transform="translate(111.40,378.81) scale(0.9214,1)" font-family="Liberation Serif" font-size="7.25" font-weight="normal" text-anchor="end" fill="#222222" stroke="#222222" stroke-width="0.13">MAPK signaling pathway - plant</text>
<circle cx="130.10" cy="388.79" r="2.30" fill="#fcf5a0" />
<line x1="113.60" y1="388.79" x2="115.80" y2="388.79" stroke="#333" stroke-width="0.8" />
<text transform="translate(111.40,390.59) scale(0.9214,1)" font-family="Liberation Serif" font-size="7.25" font-weight="normal" text-anchor="end" fill="#222222" stroke="#222222" stroke-width="0.13">Galactose metabolism</text>
<circle cx="127.60" cy="400.57" r="4.50" fill="#2a1a8c" />
<line x1="113.60" y1="400.57" x2="115.80" y2="400.57" stroke="#333" stroke-width="0.8" />
<text transform="translate(111.40,402.37) scale(0.9214,1)" font-family="Liberation Serif" font-size="7.25" font-weight="normal" text-anchor="end" fill="#222222" stroke="#222222" stroke-width="0.13">Protein processing in E.R.</text>
<circle cx="118.99" cy="412.35" r="2.80" fill="#f04a10" />
<line x1="113.60" y1="412.35" x2="115.80" y2="412.35" stroke="#333" stroke-width="0.8" />
<text transform="translate(111.40,414.15) scale(0.9214,1)" font-family="Liberation Serif" font-size="7.25" font-weight="normal" text-anchor="end" fill="#222222" stroke="#222222" stroke-width="0.13">Glutathione metabolism</text>
<rect x="115.80" y="311.50" width="77.20" height="107.80" fill="none" stroke="#6a6a6a" stroke-width="0.7"/>
<line x1="126.70" y1="419.30" x2="126.70" y2="421.30" stroke="#444" stroke-width="0.7" />
<text transform="translate(126.70,427.70)" font-family="Liberation Sans" font-size="6.90" font-weight="normal" text-anchor="middle" fill="#555" stroke="#555" stroke-width="0.10">1.5</text>
<line x1="146.27" y1="419.30" x2="146.27" y2="421.30" stroke="#444" stroke-width="0.7" />
<text transform="translate(146.27,427.70)" font-family="Liberation Sans" font-size="6.90" font-weight="normal" text-anchor="middle" fill="#555" stroke="#555" stroke-width="0.10">2.0</text>
<line x1="165.83" y1="419.30" x2="165.83" y2="421.30" stroke="#444" stroke-width="0.7" />
<text transform="translate(165.83,427.70)" font-family="Liberation Sans" font-size="6.90" font-weight="normal" text-anchor="middle" fill="#555" stroke="#555" stroke-width="0.10">2.5</text>
<line x1="185.40" y1="419.30" x2="185.40" y2="421.30" stroke="#444" stroke-width="0.7" />
<text transform="translate(185.40,427.70)" font-family="Liberation Sans" font-size="6.90" font-weight="normal" text-anchor="middle" fill="#555" stroke="#555" stroke-width="0.10">3.0</text>
<text transform="translate(204.00,320.90)" font-family="Liberation Sans" font-size="7.80" font-weight="normal" text-anchor="start" fill="#222222" stroke="#222222" stroke-width="0.12">Mapping</text>
<circle cx="209.20" cy="328.60" r="1.40" fill="#000" />
<text transform="translate(218.50,330.90)" font-family="Liberation Sans" font-size="6.40" font-weight="normal" text-anchor="start" fill="#222222" stroke="#222222" stroke-width="0.12">4</text>
<circle cx="209.20" cy="335.60" r="2.80" fill="#000" />
<text transform="translate(218.50,337.90)" font-family="Liberation Sans" font-size="6.40" font-weight="normal" text-anchor="start" fill="#222222" stroke="#222222" stroke-width="0.12">8</text>
<circle cx="209.20" cy="344.70" r="3.50" fill="#000" />
<text transform="translate(218.50,347.00)" font-family="Liberation Sans" font-size="6.40" font-weight="normal" text-anchor="start" fill="#222222" stroke="#222222" stroke-width="0.12">12</text>
<circle cx="209.20" cy="355.60" r="4.40" fill="#000" />
<text transform="translate(218.50,357.90)" font-family="Liberation Sans" font-size="6.40" font-weight="normal" text-anchor="start" fill="#222222" stroke="#222222" stroke-width="0.12">16</text>
<text transform="translate(195.00,374.00)" font-family="Liberation Sans" font-size="7.90" font-weight="normal" text-anchor="start" fill="#222222" stroke="#222222" stroke-width="0.12">Fisher&#x27;s exact</text>
<text transform="translate(197.80,383.30)" font-family="Liberation Sans" font-size="8.20" font-weight="normal" text-anchor="start" fill="#222222" stroke="#222222" stroke-width="0.12">test p value</text>
<defs><linearGradient id="rb" x1="0" y1="0" x2="0" y2="1"><stop offset="0" stop-color="#9a0020"/><stop offset="0.15" stop-color="#e8201a"/><stop offset="0.3" stop-color="#fb8a2a"/><stop offset="0.47" stop-color="#fff570"/><stop offset="0.6" stop-color="#b8e27a"/><stop offset="0.72" stop-color="#4cbfa2"/><stop offset="0.85" stop-color="#2a78bf"/><stop offset="1" stop-color="#23228e"/></linearGradient><linearGradient id="br" x1="0" y1="0" x2="0" y2="1"><stop offset="0" stop-color="#2a55b0"/><stop offset="0.35" stop-color="#7c3c86"/><stop offset="0.7" stop-color="#c81838"/><stop offset="1" stop-color="#e00000"/></linearGradient></defs>
<rect x="203.90" y="386.90" width="4.90" height="28.20" fill="url(#rb)" />
<text transform="translate(212.80,393.85) scale(0.9766,1)" font-family="Liberation Sans" font-size="6.40" font-weight="normal" text-anchor="start" fill="#333" stroke="#333" stroke-width="0.10">0.020</text>
<text transform="translate(212.80,399.55) scale(0.9766,1)" font-family="Liberation Sans" font-size="6.40" font-weight="normal" text-anchor="start" fill="#333" stroke="#333" stroke-width="0.10">0.015</text>
<text transform="translate(212.80,405.15) scale(0.9766,1)" font-family="Liberation Sans" font-size="6.40" font-weight="normal" text-anchor="start" fill="#333" stroke="#333" stroke-width="0.10">0.010</text>
<text transform="translate(212.80,410.85) scale(0.9766,1)" font-family="Liberation Sans" font-size="6.40" font-weight="normal" text-anchor="start" fill="#333" stroke="#333" stroke-width="0.10">0.005</text>
<text transform="translate(265.50,308.50) scale(0.9052,1)" font-family="Liberation Serif" font-size="11.60" font-weight="bold" text-anchor="start" fill="#222222">D</text>
<line x1="418.60" y1="300.00" x2="418.60" y2="439.20" stroke="#e8e8e8" stroke-width="0.6" />
<line x1="433.85" y1="300.00" x2="433.85" y2="439.20" stroke="#fafafa" stroke-width="0.6" />
<line x1="449.10" y1="300.00" x2="449.10" y2="439.20" stroke="#e8e8e8" stroke-width="0.6" />
<line x1="464.35" y1="300.00" x2="464.35" y2="439.20" stroke="#fafafa" stroke-width="0.6" />
<line x1="479.60" y1="300.00" x2="479.60" y2="439.20" stroke="#e8e8e8" stroke-width="0.6" />
<line x1="494.85" y1="300.00" x2="494.85" y2="439.20" stroke="#fafafa" stroke-width="0.6" />
<line x1="414.30" y1="305.30" x2="509.40" y2="305.30" stroke="#efefef" stroke-width="0.6" />
<line x1="414.30" y1="314.53" x2="509.40" y2="314.53" stroke="#efefef" stroke-width="0.6" />
<line x1="414.30" y1="323.76" x2="509.40" y2="323.76" stroke="#efefef" stroke-width="0.6" />
<line x1="414.30" y1="332.99" x2="509.40" y2="332.99" stroke="#efefef" stroke-width="0.6" />
<line x1="414.30" y1="342.21" x2="509.40" y2="342.21" stroke="#efefef" stroke-width="0.6" />
<line x1="414.30" y1="351.44" x2="509.40" y2="351.44" stroke="#efefef" stroke-width="0.6" />
<line x1="414.30" y1="360.67" x2="509.40" y2="360.67" stroke="#efefef" stroke-width="0.6" />
<line x1="414.30" y1="369.90" x2="509.40" y2="369.90" stroke="#efefef" stroke-width="0.6" />
<line x1="414.30" y1="379.13" x2="509.40" y2="379.13" stroke="#efefef" stroke-width="0.6" />
<line x1="414.30" y1="388.36" x2="509.40" y2="388.36" stroke="#efefef" stroke-width="0.6" />
<line x1="414.30" y1="397.59" x2="509.40" y2="397.59" stroke="#efefef" stroke-width="0.6" />
<line x1="414.30" y1="406.81" x2="509.40" y2="406.81" stroke="#efefef" stroke-width="0.6" />
<line x1="414.30" y1="416.04" x2="509.40" y2="416.04" stroke="#efefef" stroke-width="0.6" />
<line x1="414.30" y1="425.27" x2="509.40" y2="425.27" stroke="#efefef" stroke-width="0.6" />
<line x1="414.30" y1="434.50" x2="509.40" y2="434.50" stroke="#efefef" stroke-width="0.6" />
<circle cx="505.83" cy="305.30" r="1.50" fill="#a8101e" />
<line x1="412.50" y1="305.30" x2="414.30" y2="305.30" stroke="#333" stroke-width="0.7" />
<text transform="translate(410.30,307.10) scale(0.9310,1)" font-family="Liberation Serif" font-size="7.25" font-weight="normal" text-anchor="end" fill="#222222" stroke="#222222" stroke-width="0.13">Redoxin</text>
<circle cx="505.83" cy="314.53" r="1.50" fill="#a8101e" />
<line x1="412.50" y1="314.53" x2="414.30" y2="314.53" stroke="#333" stroke-width="0.7" />
<text transform="translate(410.30,316.33) scale(0.9310,1)" font-family="Liberation Serif" font-size="7.25" font-weight="normal" text-anchor="end" fill="#222222" stroke="#222222" stroke-width="0.13">Lipocalin-like domain</text>
<circle cx="505.83" cy="323.76" r="1.50" fill="#a8101e" />
<line x1="412.50" y1="323.76" x2="414.30" y2="323.76" stroke="#333" stroke-width="0.7" />
<text transform="translate(410.30,325.56) scale(0.9310,1)" font-family="Liberation Serif" font-size="7.25" font-weight="normal" text-anchor="end" fill="#222222" stroke="#222222" stroke-width="0.13">Glu/Leu/Phe/Val dehydrogenase</text>
<circle cx="505.83" cy="332.99" r="1.50" fill="#a8101e" />
<line x1="412.50" y1="332.99" x2="414.30" y2="332.99" stroke="#333" stroke-width="0.7" />
<text transform="translate(410.30,334.79) scale(0.9310,1)" font-family="Liberation Serif" font-size="7.25" font-weight="normal" text-anchor="end" fill="#222222" stroke="#222222" stroke-width="0.13">Glu/Leu/Phe/Val dehydrogenase, dimerisation domain</text>
<circle cx="486.31" cy="342.21" r="3.10" fill="#d40c0c" />
<line x1="412.50" y1="342.21" x2="414.30" y2="342.21" stroke="#333" stroke-width="0.7" />
<text transform="translate(410.30,344.01) scale(0.9310,1)" font-family="Liberation Serif" font-size="7.25" font-weight="normal" text-anchor="end" fill="#222222" stroke="#222222" stroke-width="0.13">Thaumatin family</text>
<circle cx="469.84" cy="351.44" r="1.20" fill="#5a3a88" />
<line x1="412.50" y1="351.44" x2="414.30" y2="351.44" stroke="#333" stroke-width="0.7" />
<text transform="translate(410.30,353.24) scale(0.9310,1)" font-family="Liberation Serif" font-size="7.25" font-weight="normal" text-anchor="end" fill="#222222" stroke="#222222" stroke-width="0.13">Nucleoside diphosphate kinase</text>
<circle cx="469.84" cy="360.67" r="1.20" fill="#5a3a88" />
<line x1="412.50" y1="360.67" x2="414.30" y2="360.67" stroke="#333" stroke-width="0.7" />
<text transform="translate(410.30,362.47) scale(0.9310,1)" font-family="Liberation Serif" font-size="7.25" font-weight="normal" text-anchor="end" fill="#222222" stroke="#222222" stroke-width="0.13">Glycosyl hydrolases family 38 C-terminal domain</text>
<circle cx="469.84" cy="369.90" r="1.20" fill="#5a3a88" />
<line x1="412.50" y1="369.90" x2="414.30" y2="369.90" stroke="#333" stroke-width="0.7" />
<text transform="translate(410.30,371.70) scale(0.9310,1)" font-family="Liberation Serif" font-size="7.25" font-weight="normal" text-anchor="end" fill="#222222" stroke="#222222" stroke-width="0.13">Glycosyl hydrolase family 3 N-terminal domain</text>
<circle cx="469.84" cy="379.13" r="1.20" fill="#5a3a88" />
<line x1="412.50" y1="379.13" x2="414.30" y2="379.13" stroke="#333" stroke-width="0.7" />
<text transform="translate(410.30,380.93) scale(0.9310,1)" font-family="Liberation Serif" font-size="7.25" font-weight="normal" text-anchor="end" fill="#222222" stroke="#222222" stroke-width="0.13">Barwin family</text>
<circle cx="455.81" cy="388.36" r="2.90" fill="#d00d0d" />
<line x1="412.50" y1="388.36" x2="414.30" y2="388.36" stroke="#333" stroke-width="0.7" />
<text transform="translate(410.30,390.16) scale(0.9310,1)" font-family="Liberation Serif" font-size="7.25" font-weight="normal" text-anchor="end" fill="#222222" stroke="#222222" stroke-width="0.13">Zinc-binding dehydrogenase</text>
<circle cx="444.22" cy="397.59" r="2.60" fill="#a43040" />
<line x1="412.50" y1="397.59" x2="414.30" y2="397.59" stroke="#333" stroke-width="0.7" />
<text transform="translate(410.30,399.39) scale(0.9310,1)" font-family="Liberation Serif" font-size="7.25" font-weight="normal" text-anchor="end" fill="#222222" stroke="#222222" stroke-width="0.13">PLAT/LH2 domain</text>
<circle cx="444.22" cy="406.81" r="2.70" fill="#d00d0d" />
<line x1="412.50" y1="406.81" x2="414.30" y2="406.81" stroke="#333" stroke-width="0.7" />
<text transform="translate(410.30,408.61) scale(0.9310,1)" font-family="Liberation Serif" font-size="7.25" font-weight="normal" text-anchor="end" fill="#222222" stroke="#222222" stroke-width="0.13">Glutaredoxin</text>
<circle cx="436.90" cy="416.04" r="3.60" fill="#d00d0d" />
<line x1="412.50" y1="416.04" x2="414.30" y2="416.04" stroke="#333" stroke-width="0.7" />
<text transform="translate(410.30,417.84) scale(0.9310,1)" font-family="Liberation Serif" font-size="7.25" font-weight="normal" text-anchor="end" fill="#222222" stroke="#222222" stroke-width="0.13">Glycosyl hydrolases family 17</text>
<circle cx="421.65" cy="425.27" r="4.20" fill="#d00d0d" />
<line x1="412.50" y1="425.27" x2="414.30" y2="425.27" stroke="#333" stroke-width="0.7" />
<text transform="translate(410.30,427.07) scale(0.9310,1)" font-family="Liberation Serif" font-size="7.25" font-weight="normal" text-anchor="end" fill="#222222" stroke="#222222" stroke-width="0.13">Alcohol dehydrogenase GroES-like domain</text>
<circle cx="417.99" cy="434.50" r="2.30" fill="#1e5bb0" />
<line x1="412.50" y1="434.50" x2="414.30" y2="434.50" stroke="#333" stroke-width="0.7" />
<text transform="translate(410.30,436.30) scale(0.9310,1)" font-family="Liberation Serif" font-size="7.25" font-weight="normal" text-anchor="end" fill="#222222" stroke="#222222" stroke-width="0.13">Trypsin and protease inhibitor</text>
<rect x="414.30" y="300.00" width="95.10" height="139.20" fill="none" stroke="#aaa" stroke-width="0.8"/>
<line x1="418.60" y1="439.20" x2="418.60" y2="440.70" stroke="#555" stroke-width="0.6" />
<text transform="translate(418.60,446.00) scale(0.8679,1)" font-family="Liberation Sans" font-size="5.30" font-weight="normal" text-anchor="middle" fill="#444" stroke="#444" stroke-width="0.08">2.0</text>
<line x1="449.10" y1="439.20" x2="449.10" y2="440.70" stroke="#555" stroke-width="0.6" />
<text transform="translate(449.10,446.00) scale(0.8679,1)" font-family="Liberation Sans" font-size="5.30" font-weight="normal" text-anchor="middle" fill="#444" stroke="#444" stroke-width="0.08">2.5</text>
<line x1="479.60" y1="439.20" x2="479.60" y2="440.70" stroke="#555" stroke-width="0.6" />
<text transform="translate(479.60,446.00) scale(0.8679,1)" font-family="Liberation Sans" font-size="5.30" font-weight="normal" text-anchor="middle" fill="#444" stroke="#444" stroke-width="0.08">3.0</text>
<text transform="translate(462.00,451.90) scale(0.8425,1)" font-family="Liberation Sans" font-size="6.35" font-weight="normal" text-anchor="middle" fill="#333" stroke="#333" stroke-width="0.03">Log2 Fold enrichment</text>
<text transform="translate(517.20,329.80) scale(0.7736,1)" font-family="Liberation Sans" font-size="5.30" font-weight="normal" text-anchor="start" fill="#222222" stroke="#222222" stroke-width="0.08">P value</text>
<rect x="517.20" y="332.50" width="7.60" height="38.90" fill="url(#br)" />
<text transform="translate(526.60,335.80) scale(0.7925,1)" font-family="Liberation Sans" font-size="5.30" font-weight="normal" text-anchor="start" fill="#333" stroke="#333" stroke-width="0.08">0.03</text>
<text transform="translate(526.60,349.20) scale(0.7925,1)" font-family="Liberation Sans" font-size="5.30" font-weight="normal" text-anchor="start" fill="#333" stroke="#333" stroke-width="0.08">0.02</text>
<text transform="translate(526.60,361.80) scale(0.7925,1)" font-family="Liberation Sans" font-size="5.30" font-weight="normal" text-anchor="start" fill="#333" stroke="#333" stroke-width="0.08">0.01</text>
<text transform="translate(517.20,386.00) scale(0.9556,1)" font-family="Liberation Sans" font-size="4.50" font-weight="normal" text-anchor="start" fill="#222222" stroke="#222222" stroke-width="0.05">Protein number</text>
<circle cx="521.70" cy="391.80" r="0.90" fill="#000" />
<text transform="translate(527.70,393.40) scale(0.9565,1)" font-family="Liberation Sans" font-size="4.60" font-weight="normal" text-anchor="start" fill="#222222" stroke="#222222" stroke-width="0.05">2</text>
<circle cx="521.70" cy="400.40" r="2.60" fill="#000" />
<text transform="translate(527.70,402.00) scale(0.9565,1)" font-family="Liberation Sans" font-size="4.60" font-weight="normal" text-anchor="start" fill="#222222" stroke="#222222" stroke-width="0.05">4</text>
<circle cx="521.70" cy="408.70" r="3.60" fill="#000" />
<text transform="translate(527.70,410.30) scale(0.9565,1)" font-family="Liberation Sans" font-size="4.60" font-weight="normal" text-anchor="start" fill="#222222" stroke="#222222" stroke-width="0.05">6</text></svg>
</body></html>
